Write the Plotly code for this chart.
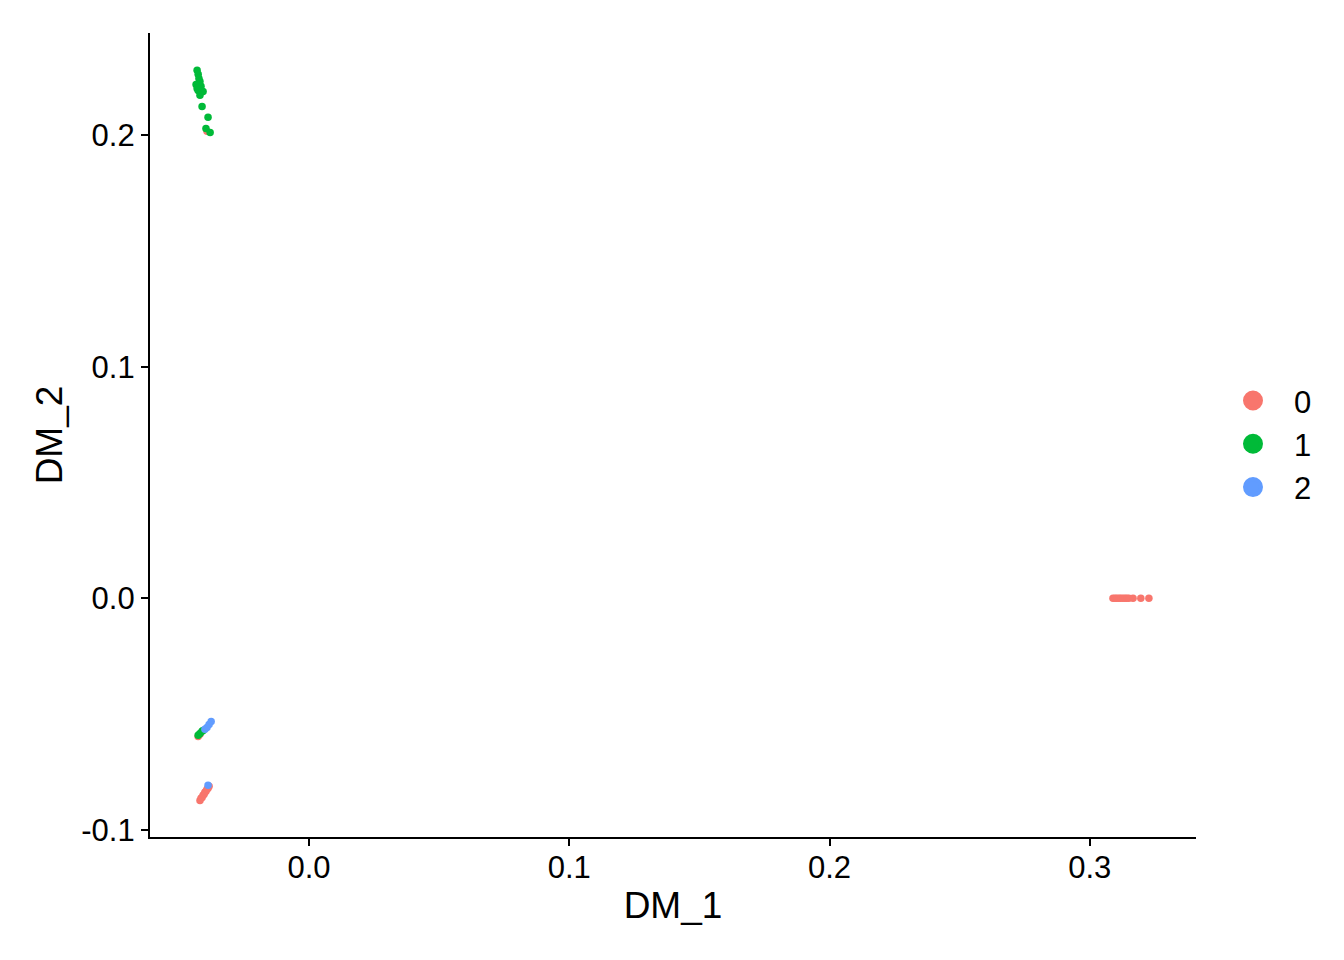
import plotly.graph_objects as go

# Cluster 0 (red)
c0_x = [-0.0392, -0.0426, -0.0419,
        -0.0419, -0.0415, -0.0411, -0.0407, -0.0403, -0.0400, -0.0396, -0.0392, -0.0388, -0.0384,
        0.3089, 0.3097, 0.3104, 0.3112, 0.3119, 0.3127, 0.3135, 0.3142, 0.3150, 0.3166, 0.3196, 0.3227]
c0_y = [0.2016, -0.0596, -0.0587,
        -0.0872, -0.0863, -0.0859, -0.0850, -0.0846, -0.0837, -0.0833, -0.0824, -0.0820, -0.0811,
        0.0, 0.0, 0.0, 0.0, 0.0, 0.0, 0.0, 0.0, 0.0, 0.0, 0.0, 0.0]

# Cluster 1 (green)
c1_x = [-0.0430, -0.0426, -0.0423, -0.0434, -0.0419, -0.0415, -0.0426, -0.0407, -0.0419,
        -0.0411, -0.0388, -0.0396, -0.0380, -0.0423, -0.0430,
        -0.0407, -0.0411, -0.0419, -0.0426]
c1_y = [0.2279, 0.2262, 0.2244, 0.2218, 0.2231, 0.2210, 0.2192, 0.2188, 0.2171,
        0.2123, 0.2076, 0.2028, 0.2011, 0.2218, 0.2201,
        -0.0570, -0.0574, -0.0583, -0.0591]

# Cluster 2 (blue)
c2_x = [-0.0376, -0.0384, -0.0392, -0.0400, -0.0388]
c2_y = [-0.0531, -0.0544, -0.0557, -0.0565, -0.0807]

clusters = ["0", "1", "2"]
colors = ["#F8766D", "#00BA38", "#619CFF"]
xs = [c0_x, c1_x, c2_x]
ys = [c0_y, c1_y, c2_y]

x_ticks = [0.0, 0.1, 0.2, 0.3]
x_ticklabels = ["0.0", "0.1", "0.2", "0.3"]
y_ticks = [-0.1, 0.0, 0.1, 0.2]
y_ticklabels = ["-0.1", "0.0", "0.1", "0.2"]

FONT = "Liberation Sans, Arial, sans-serif"

fig = go.Figure()
for name, col, x, y in zip(clusters, colors, xs, ys):
    fig.add_trace(go.Scatter(x=x, y=y, mode="markers", name=name, showlegend=False,
                             marker=dict(color=col, size=7.5, line=dict(width=0))))
for name, col in zip(clusters, colors):
    fig.add_trace(go.Scatter(x=[None], y=[None], mode="markers", name=name, showlegend=True,
                             marker=dict(color=col, size=16, line=dict(width=4, color=col))))

axis_common = dict(showgrid=False, zeroline=False, showline=True, linecolor="black", linewidth=2.2,
                   ticks="outside", ticklen=7, tickwidth=2.2, tickcolor="black",
                   tickfont=dict(family=FONT, size=31, color="black"),
                   mirror=False)

fig.update_layout(
    width=1336, height=952,
    margin=dict(l=142, r=148, t=25, b=123),
    plot_bgcolor="white", paper_bgcolor="white",
    font=dict(family=FONT, color="black"),
    xaxis=dict(range=[-0.0611, 0.3408], tickvals=x_ticks, ticktext=x_ticklabels,
               ticklabelstandoff=-5,
               title=dict(text="DM_1", font=dict(size=37, family=FONT), standoff=8), **axis_common),
    yaxis=dict(range=[-0.1030, 0.2440], tickvals=y_ticks, ticktext=y_ticklabels,
               title=dict(text="DM_2", font=dict(size=37, family=FONT), standoff=7), **axis_common),
    legend=dict(x=1.0153, y=0.489, xanchor="left", yanchor="middle",
                font=dict(size=31, family=FONT), itemsizing="trace", itemwidth=72,
                tracegroupgap=0, bgcolor="rgba(0,0,0,0)"),
)

fig.write_html("out.html")
